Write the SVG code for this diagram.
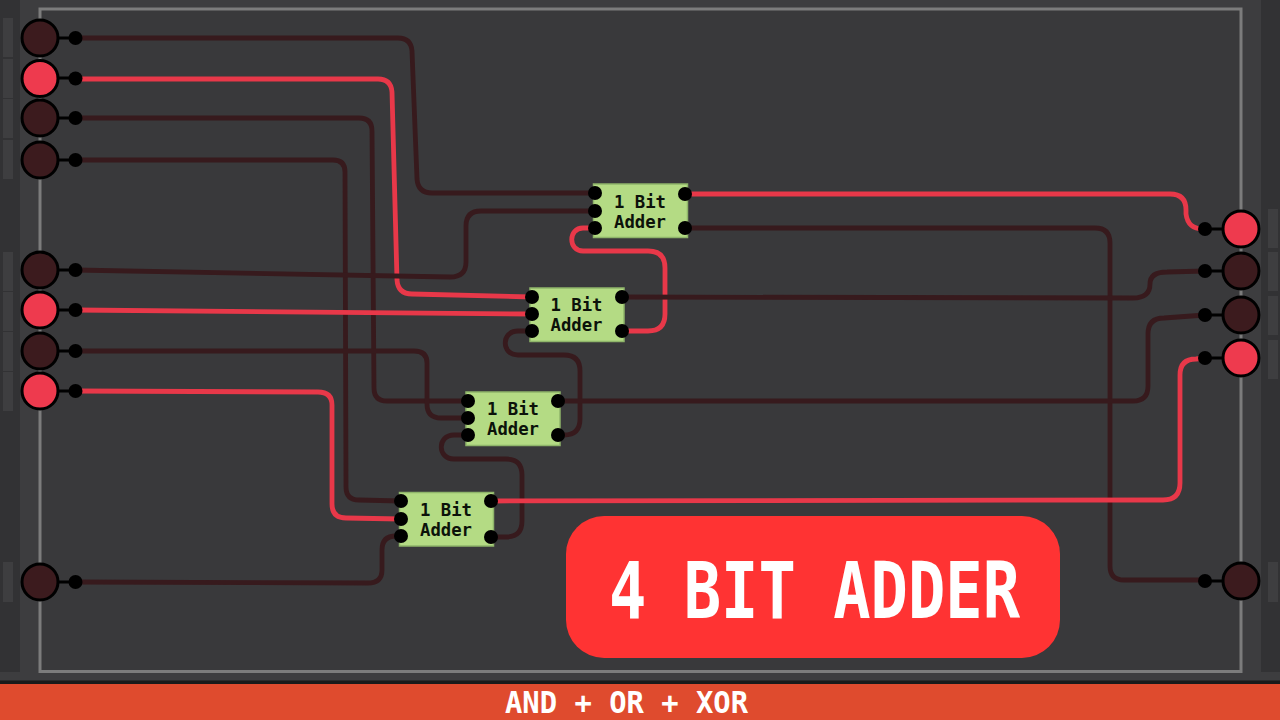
<svg xmlns="http://www.w3.org/2000/svg" width="1280" height="720" viewBox="0 0 1280 720">
<style>
.w{fill:none;stroke-width:4.8;stroke-linecap:round;stroke-linejoin:round}
.r{stroke:#e83849}.d{stroke:#371a1d}
.n{stroke:#000;stroke-width:3}.non{fill:#ee3a4e}.off{fill:#3c1b1e}
.st{stroke:#000;stroke-width:3}
.b{fill:#3e3e40}
.g{fill:#b4db84;stroke:#8fb56a;stroke-width:1.5}
.t{font-family:"DejaVu Sans Mono","Liberation Mono",monospace;font-weight:bold;font-size:17.3px;fill:#0c120a;text-anchor:middle}
.big{font-family:"DejaVu Sans Mono","Liberation Mono",monospace;font-weight:bold;fill:#fff}
</style>
<rect width="1280" height="720" fill="#3d3d3f"/>
<rect x="0" y="0" width="20" height="672" fill="#323234"/>
<rect x="1261" y="0" width="19" height="672" fill="#323234"/>
<g class="b">
<rect x="3" y="18" width="10" height="39"/><rect x="3" y="59" width="10" height="39"/><rect x="3" y="99" width="10" height="39"/><rect x="3" y="140" width="10" height="39"/>
<rect x="3" y="252" width="10" height="39"/><rect x="3" y="292" width="10" height="39"/><rect x="3" y="332" width="10" height="39"/><rect x="3" y="372" width="10" height="39"/>
<rect x="3" y="562" width="10" height="40"/>
<rect x="1268" y="209" width="10" height="39"/><rect x="1268" y="252" width="10" height="39"/><rect x="1268" y="296" width="10" height="39"/><rect x="1268" y="340" width="10" height="39"/>
<rect x="1268" y="562" width="10" height="40"/>
</g>
<rect x="40" y="9" width="1201" height="662.500" fill="#39393b" stroke="#7c7c7c" stroke-width="3"/>
<rect x="0" y="680.500" width="1280" height="4" fill="#1a1a1a"/>
<rect x="0" y="684" width="1280" height="36" fill="#df4b2e"/>

<g id="connectors">
<path class="w d" d="M75 38H398Q411 38 412 51L417 179Q418 193 432 193H595"/>
<path class="w r" d="M75 79H378Q391 79 392 92L397 280Q398 294 412 294L532 297"/>
<path class="w d" d="M75 118H359Q372 118 372 131L374 388Q374 401 387 401H468"/>
<path class="w d" d="M75 160H333Q345 160 345 172L346 487Q346 500 359 500L401 501"/>
<path class="w d" d="M75 270L450 277Q466 277 466 262V226Q466 211 481 211H595"/>
<path class="w r" d="M75 310L532 314"/>
<path class="w d" d="M75 351H414Q427 351 427 363V404Q427 418 441 418H468"/>
<path class="w r" d="M75 391L318 392Q332 392 332 405V504Q332 518 346 518L401 519"/>
<path class="w d" d="M75 582L368 583Q382 583 382 570V550Q382 536 396 536H401"/>
<path class="w r" d="M595 228H583C568 228 568 251 583 251H648Q665 251 665 268V314Q665 331 648 331H622"/>
<path class="w d" d="M532 331H518C501 331 501 355 518 355H564Q580 355 580 371V419Q580 435 564 435H558"/>
<path class="w d" d="M468 435H454C437 435 437 459 454 459H506Q522 459 522 475V521Q522 537 506 537H491"/>
<path class="w r" d="M685 194H1170Q1186 194 1186 210V214Q1188 229 1203 229H1205"/>
<path class="w d" d="M685 228H1095Q1110 228 1110 243V566Q1110 580 1124 580H1205"/>
<path class="w d" d="M622 297L1133 298Q1150 298 1150 284Q1150 272 1167 272L1205 271"/>
<path class="w d" d="M558 401H1133Q1148 401 1148 386V334Q1148 318 1164 318L1205 315"/>
<path class="w r" d="M491 501L1163 500Q1180 500 1180 483V375Q1180 359 1196 359L1205 358"/>
</g>

<g id="input-1"><line class="st" x1="58" y1="38" x2="75" y2="38"/><circle class="n off" cx="40" cy="38" r="18"/><circle cx="75.500" cy="38" r="7"/></g>
<g id="input-2"><line class="st" x1="58" y1="78" x2="75" y2="78"/><circle class="n non" cx="40" cy="78.500" r="18"/><circle cx="75.500" cy="78.500" r="7"/></g>
<g id="input-3"><line class="st" x1="58" y1="118" x2="75" y2="118"/><circle class="n off" cx="40" cy="118" r="18"/><circle cx="75.500" cy="118" r="7"/></g>
<g id="input-4"><line class="st" x1="58" y1="160" x2="75" y2="160"/><circle class="n off" cx="40" cy="160" r="18"/><circle cx="75.500" cy="160" r="7"/></g>
<g id="input-5"><line class="st" x1="58" y1="270" x2="75" y2="270"/><circle class="n off" cx="40" cy="270" r="18"/><circle cx="75.500" cy="270" r="7"/></g>
<g id="input-6"><line class="st" x1="58" y1="310" x2="75" y2="310"/><circle class="n non" cx="40" cy="310" r="18"/><circle cx="75.500" cy="310" r="7"/></g>
<g id="input-7"><line class="st" x1="58" y1="351" x2="75" y2="351"/><circle class="n off" cx="40" cy="351" r="18"/><circle cx="75.500" cy="351" r="7"/></g>
<g id="input-8"><line class="st" x1="58" y1="391" x2="75" y2="391"/><circle class="n non" cx="40" cy="391" r="18"/><circle cx="75.500" cy="391" r="7"/></g>
<g id="input-carry"><line class="st" x1="58" y1="582" x2="75" y2="582"/><circle class="n off" cx="40" cy="582" r="18"/><circle cx="75.500" cy="582" r="7"/></g>

<g id="output-1"><line class="st" x1="1205" y1="229" x2="1223" y2="229"/><circle class="n non" cx="1241" cy="229" r="18"/><circle cx="1205" cy="229" r="7"/></g>
<g id="output-2"><line class="st" x1="1205" y1="271" x2="1223" y2="271"/><circle class="n off" cx="1241" cy="271" r="18"/><circle cx="1205" cy="271" r="7"/></g>
<g id="output-3"><line class="st" x1="1205" y1="315" x2="1223" y2="315"/><circle class="n off" cx="1241" cy="315" r="18"/><circle cx="1205" cy="315" r="7"/></g>
<g id="output-4"><line class="st" x1="1205" y1="358" x2="1223" y2="358"/><circle class="n non" cx="1241" cy="358" r="18"/><circle cx="1205" cy="358" r="7"/></g>
<g id="output-carry"><line class="st" x1="1205" y1="581" x2="1223" y2="581"/><circle class="n off" cx="1241" cy="581" r="18"/><circle cx="1205" cy="581" r="7"/></g>

<g id="adder-a"><rect class="g" x="593.500" y="184" width="94" height="53.500"/><text class="t" x="640" y="208">1 Bit</text><text class="t" x="640" y="228">Adder</text>
<circle cx="595" cy="193" r="7"/><circle cx="595" cy="211" r="7"/><circle cx="595" cy="228" r="7"/><circle cx="685" cy="194" r="7"/><circle cx="685" cy="228" r="7"/></g>
<g id="adder-b"><rect class="g" x="530" y="288" width="94" height="53.500"/><text class="t" x="576.500" y="311">1 Bit</text><text class="t" x="576.500" y="331">Adder</text>
<circle cx="532" cy="297" r="7"/><circle cx="532" cy="314" r="7"/><circle cx="532" cy="331" r="7"/><circle cx="622" cy="297" r="7"/><circle cx="622" cy="331" r="7"/></g>
<g id="adder-c"><rect class="g" x="466" y="392" width="94" height="53.500"/><text class="t" x="513" y="415">1 Bit</text><text class="t" x="513" y="435">Adder</text>
<circle cx="468" cy="401" r="7"/><circle cx="468" cy="418" r="7"/><circle cx="468" cy="435" r="7"/><circle cx="558" cy="401" r="7"/><circle cx="558" cy="435" r="7"/></g>
<g id="adder-d"><rect class="g" x="399.500" y="492.500" width="94" height="53.500"/><text class="t" x="446" y="516">1 Bit</text><text class="t" x="446" y="536">Adder</text>
<circle cx="401" cy="501" r="7"/><circle cx="401" cy="519" r="7"/><circle cx="401" cy="536" r="7"/><circle cx="491" cy="501" r="7"/><circle cx="491" cy="537" r="7"/></g>

<g id="title"><rect x="566" y="516" width="494" height="142" rx="38" fill="#ff3333"/>
<text class="big" x="609" y="618" font-size="78" textLength="411" lengthAdjust="spacingAndGlyphs">4 BIT ADDER</text></g>
<text class="big" x="505" y="713" font-size="30" textLength="243" lengthAdjust="spacingAndGlyphs">AND + OR + XOR</text>
</svg>
